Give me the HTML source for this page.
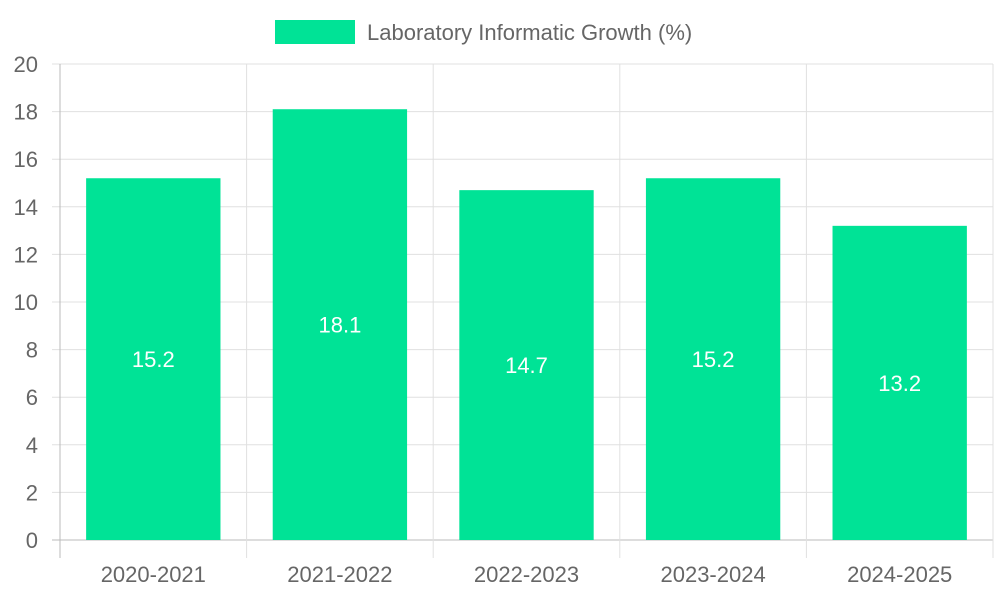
<!DOCTYPE html>
<html><head><meta charset="utf-8"><style>
html,body{margin:0;padding:0;background:#fff;}
svg{display:block;font-family:"Liberation Sans",sans-serif;}
</style></head><body>
<svg id="chart" width="1000" height="600">
<g id="legend">
<rect x="275" y="20" width="80" height="24" fill="#00e396"/>
<text x="367" y="40" font-size="22" fill="#666">Laboratory Informatic Growth (%)</text>
</g>
<g id="grid"></g><g id="bars"></g><g id="labels"></g>
</svg>
<script>
const categories=["2020-2021","2021-2022","2022-2023","2023-2024","2024-2025"];
const values=[15.2,18.1,14.7,15.2,13.2];
const yTicks=[0,2,4,6,8,10,12,14,16,18,20];
const ns="http://www.w3.org/2000/svg";
const L=60,R=993,T=64,B=540,yMax=20;
const y=v=>B-(v/yMax)*(B-T);
const cw=(R-L)/categories.length;
const x=i=>L+i*cw;
function mk(t,a,p,txt){const e=document.createElementNS(ns,t);for(const k in a)e.setAttribute(k,a[k]);if(txt!==undefined)e.textContent=txt;p.appendChild(e);return e;}
const g=document.getElementById('grid'),bg=document.getElementById('bars'),lg=document.getElementById('labels');
yTicks.forEach(t=>{
 const ln=mk('line',{x1:L-8,x2:R,y1:y(t),y2:y(t),stroke:t===0?'#bbb':'#e0e0e0','stroke-width':1},g);
 
 
 const tx=mk('text',{x:38,y:y(t)+8,'text-anchor':'end','font-size':22,fill:'#666'},g,String(t));
 
 
});
for(let i=0;i<=categories.length;i++){
 const ln=mk('line',{x1:x(i),x2:x(i),y1:T,y2:B+18,stroke:i===0?'#bbb':'#e0e0e0','stroke-width':1},g);
 
 
}
categories.forEach((c,i)=>{
 const bw=cw*0.72,bx=x(i)+(cw-bw)/2;
 const r=mk('rect',{x:bx,y:y(values[i]),width:bw,height:B-y(values[i]),fill:'#00e396'},bg);
 
 
 const v=mk('text',{x:x(i)+cw/2,y:(y(values[i])+B)/2+8,'text-anchor':'middle','font-size':22,fill:'#fff'},lg,values[i].toFixed(1));
 
 
 const t=mk('text',{x:x(i)+cw/2,y:582,'text-anchor':'middle','font-size':22,fill:'#666'},lg,c);
 
 
});
</script>
</body></html>
